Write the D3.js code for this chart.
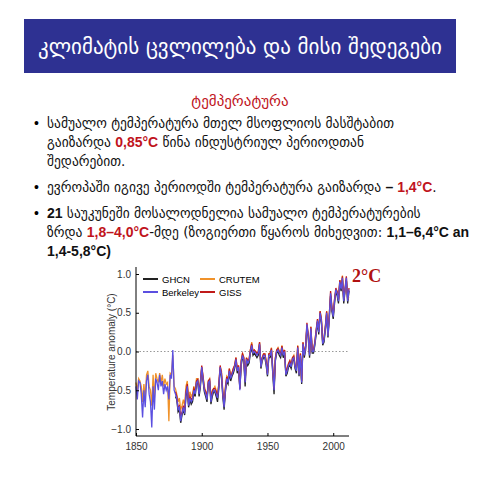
<!DOCTYPE html>
<html><head><meta charset="utf-8">
<script src="https://cdn.jsdelivr.net/npm/d3@7"></script>
<style>body{margin:0;background:#fff}svg{display:block}</style></head>
<body><svg id="c" width="480" height="480"></svg>
<script>
const yearStart = 1850;
const berkeley = [-0.45,-0.62,-0.38,-0.40,-0.55,-0.85,-0.50,-0.72,-0.38,-0.30,
-0.55,-0.65,-0.98,-0.45,-0.75,-0.35,-0.40,-0.50,-0.30,-0.45,
-0.38,-0.55,-0.42,-0.50,-0.45,-0.62,-0.30,-0.35,0.02,-0.50,
-0.55,-0.60,-0.75,-0.72,-0.90,-0.80,-0.72,-0.80,-0.55,-0.45,
-0.70,-0.60,-0.65,-0.62,-0.50,-0.55,-0.40,-0.38,-0.55,-0.42,
-0.20,-0.35,-0.50,-0.55,-0.62,-0.40,-0.38,-0.65,-0.55,-0.50,
-0.50,-0.55,-0.60,-0.45,-0.20,-0.30,-0.55,-0.72,-0.50,-0.35,
-0.40,-0.25,-0.35,-0.30,-0.25,-0.20,-0.10,-0.25,-0.20,-0.50,
-0.15,-0.05,-0.10,-0.40,-0.10,-0.15,-0.12,0.00,0.08,-0.02,
0.00,-0.02,-0.05,-0.02,0.10,-0.20,-0.10,-0.05,-0.05,-0.15,
-0.30,-0.05,-0.05,0.02,-0.25,-0.50,-0.10,0.00,0.02,-0.02,
-0.05,0.05,-0.05,0.00,-0.30,-0.25,-0.18,-0.15,-0.20,-0.10,
-0.08,-0.20,-0.25,0.05,-0.30,-0.05,-0.40,0.10,-0.05,0.05,
0.35,0.20,-0.05,0.30,0.00,0.00,0.10,0.25,0.40,0.25,
0.50,0.40,0.10,0.15,0.30,0.50,0.20,0.45,0.75,0.55,
0.45,0.65,0.80,0.75,0.65,0.90,0.80,0.95,0.65,0.80,
0.95,0.65,0.80];
const crutem = [-0.40,-0.50,-0.35,-0.38,-0.45,-0.65,-0.42,-0.60,-0.30,-0.25,
-0.45,-0.50,-0.70,-0.30,-0.60,-0.28,-0.35,-0.40,-0.28,-0.40,
-0.30,-0.45,-0.35,-0.42,-0.40,-0.90,-0.28,-0.30,-0.05,-0.45,
-0.48,-0.55,-0.65,-0.60,-0.75,-0.70,-0.62,-0.70,-0.45,-0.38,
-0.60,-0.52,-0.58,-0.55,-0.45,-0.50,-0.35,-0.35,-0.50,-0.38,
-0.20,-0.32,-0.45,-0.52,-0.58,-0.38,-0.35,-0.60,-0.50,-0.48,
-0.45,-0.50,-0.55,-0.42,-0.20,-0.25,-0.50,-0.65,-0.45,-0.32,
-0.35,-0.22,-0.30,-0.28,-0.22,-0.18,-0.08,-0.22,-0.18,-0.45,
-0.12,-0.02,-0.08,-0.35,-0.08,-0.12,-0.10,0.02,0.12,0.00,
0.02,0.00,-0.03,0.00,0.12,-0.18,-0.08,-0.03,-0.03,-0.12,
-0.28,-0.03,-0.02,0.05,-0.22,-0.45,-0.08,0.02,0.05,0.00,
-0.02,0.08,-0.02,0.02,-0.28,-0.22,-0.15,-0.12,-0.18,-0.08,
-0.05,-0.18,-0.22,0.08,-0.28,-0.02,-0.38,0.12,-0.03,0.08,
0.32,0.22,-0.02,0.32,0.02,0.02,0.12,0.28,0.38,0.28,
0.52,0.42,0.12,0.18,0.32,0.52,0.22,0.48,0.72,0.58,
0.48,0.68,0.78,0.78,0.68,0.92,0.82,0.98,0.68,0.78,
0.92,0.68,0.70];
const ghcnStart = 1880;
const ghcn = [-0.58,-0.62,-0.78,-0.75,-0.92,-0.82,-0.75,-0.82,-0.58,-0.48,
-0.72,-0.62,-0.68,-0.65,-0.52,-0.58,-0.42,-0.40,-0.58,-0.45,
-0.22,-0.38,-0.52,-0.58,-0.65,-0.42,-0.40,-0.68,-0.58,-0.52,
-0.52,-0.58,-0.65,-0.48,-0.22,-0.32,-0.58,-0.75,-0.52,-0.38,
-0.42,-0.28,-0.38,-0.32,-0.28,-0.22,-0.12,-0.28,-0.22,-0.48,
-0.18,-0.08,-0.12,-0.45,-0.12,-0.18,-0.15,-0.02,0.05,-0.05,
-0.02,-0.05,-0.08,-0.05,0.08,-0.22,-0.12,-0.08,-0.08,-0.18,
-0.32,-0.08,-0.08,0.00,-0.28,-0.55,-0.12,-0.02,0.00,-0.05,
-0.08,0.02,-0.08,-0.02,-0.32,-0.28,-0.20,-0.18,-0.22,-0.12,
-0.10,-0.22,-0.28,0.02,-0.32,-0.08,-0.42,0.08,-0.08,0.02,
0.32,0.18,-0.08,0.28,-0.02,-0.02,0.08,0.22,0.38,0.22,
0.48,0.38,0.08,0.12,0.28,0.48,0.18,0.42,0.72,0.52,
0.42,0.62,0.78,0.72,0.62,0.88,0.78,0.92,0.62,0.78,
0.92,0.62,0.78];
const gissStart = 1880;
const giss = [-0.52,-0.58,-0.72,-0.70,-0.85,-0.78,-0.70,-0.78,-0.52,-0.42,
-0.68,-0.58,-0.62,-0.60,-0.48,-0.52,-0.38,-0.36,-0.52,-0.40,
-0.18,-0.33,-0.48,-0.52,-0.60,-0.38,-0.36,-0.62,-0.52,-0.48,
-0.48,-0.52,-0.58,-0.42,-0.18,-0.28,-0.52,-0.70,-0.48,-0.33,
-0.38,-0.22,-0.33,-0.28,-0.22,-0.18,-0.08,-0.22,-0.18,-0.48,
-0.12,-0.03,-0.08,-0.38,-0.08,-0.12,-0.10,0.02,0.10,0.00,
0.02,0.00,-0.03,0.00,0.12,-0.18,-0.08,-0.03,-0.03,-0.12,
-0.28,-0.03,-0.03,0.04,-0.22,-0.48,-0.08,0.02,0.04,0.00,
-0.03,0.07,-0.03,0.02,-0.28,-0.22,-0.16,-0.12,-0.18,-0.08,
-0.06,-0.18,-0.22,0.07,-0.28,-0.03,-0.38,0.12,-0.03,0.07,
0.37,0.22,-0.03,0.32,0.02,0.02,0.12,0.27,0.42,0.27,
0.52,0.42,0.12,0.17,0.32,0.52,0.22,0.47,0.78,0.57,
0.47,0.67,0.82,0.77,0.67,0.92,0.82,0.97,0.67,0.82,
0.97,0.67,0.82];
const seriesNames = ["GHCN","CRUTEM","Berkeley","GISS"];
const seriesColors = ["#222222","#f0922a","#5b4fe0","#c01a1a"];
const yTicks = [1.0,0.5,0.0,-0.5,-1.0];
const xTicks = [1850,1900,1950,2000];

const svg = d3.select("#c");
svg.append("rect").attr("x",24).attr("y",19).attr("width",432).attr("height",54).attr("fill","#2e3192");
svg.append("text").attr("x",240).attr("y",54).attr("text-anchor","middle").attr("fill","#fff")
 .attr("font-family","DejaVu Sans").attr("font-size",21).text("კლიმატის ცვლილება და მისი შედეგები");
svg.append("text").attr("x",240).attr("y",106).attr("text-anchor","middle").attr("fill","#c0141c")
 .attr("font-family","DejaVu Sans").attr("font-size",15).text("ტემპერატურა");

const FS = 13.5;
const lines = [
 {y:128,b:true,parts:[["სამუალო ტემპერატურა მთელ მსოფლიოს მასშტაბით","#111",false]]},
 {y:147,parts:[["გაიზარდა   ","#111",false],["0,85°C","#c0141c",true],[" წინა ინდუსტრიულ პერიოდთან","#111",false]]},
 {y:166,parts:[["შედარებით.","#111",false]]},
 {y:192,b:true,parts:[["ევროპაში იგივე პერიოდში ტემპერატურა გაიზარდა ","#111",false],["– ","#111",true],["1,4°C",  "#c0141c",true],[".","#111",false]]},
 {y:218,b:true,parts:[["21","#111",true],[" საუკუნეში მოსალოდნელია  სამუალო ტემპერატურების","#111",false]]},
 {y:237,parts:[["ზრდა ","#111",false],["1,8–4,0°C","#c0141c",true],["-მდე (ზოგიერთი წყაროს მიხედვით: ","#111",false],["1,1–6,4°C","#111",true],[" an","#111",true]]},
 {y:256,parts:[["1,4-5,8°C)","#111",true]]}
];
lines.forEach(l=>{
 if(l.b) svg.append("text").attr("x",34).attr("y",l.y).attr("font-family","Liberation Sans").attr("font-size",14).text("•");
 const t = svg.append("text").attr("x",47).attr("y",l.y).attr("font-family","DejaVu Sans").attr("font-size",FS);
 l.parts.forEach(p=>t.append("tspan").attr("fill",p[1]).attr("font-weight",p[2]?"bold":"normal")
   .attr("font-family",p[2]?"Liberation Sans":"DejaVu Sans").attr("font-size",p[2]?14:FS).text(p[0]));
});

const x = d3.scaleLinear().domain([1850,2012]).range([136,349]);
const y = d3.scaleLinear().domain([-1,1]).range([429,274]);
const g = svg.append("g");
g.append("line").attr("x1",136).attr("x2",349).attr("y1",y(0)).attr("y2",y(0)).attr("stroke","#999").attr("stroke-dasharray","1.5,2");
const mk = (arr,start)=>arr.map((v,i)=>[start+i,v]);
const data = [mk(ghcn,ghcnStart),mk(crutem,yearStart),mk(giss,gissStart),mk(berkeley,yearStart)];
const colorsDraw = [seriesColors[0],seriesColors[1],seriesColors[3],seriesColors[2]];
const line = d3.line().x(d=>x(d[0])).y(d=>y(d[1]));
data.forEach((d,i)=>g.append("path").attr("d",line(d)).attr("fill","none").attr("stroke",colorsDraw[i]).attr("stroke-width",1.3));
g.append("g").attr("transform","translate(136,0)").call(d3.axisLeft(y).tickValues(yTicks).tickFormat(d3.format(".1f")).tickSize(-3).tickSizeOuter(0))
 .call(a=>{a.select(".domain").attr("d","M0,267V436");a.selectAll("text").attr("font-family","Liberation Sans").attr("font-size",10).attr("fill","#333").attr("x",-5);});
g.append("g").attr("transform","translate(0,436)").call(d3.axisBottom(x).tickValues(xTicks).tickFormat(d3.format("d")).tickSize(-3).tickSizeOuter(0))
 .call(a=>{a.select(".domain").attr("d","M136,0H349");a.selectAll("text").attr("font-family","Liberation Sans").attr("font-size",10).attr("fill","#333").attr("y",7);});
svg.append("text").attr("transform","translate(115,352) rotate(-90)").attr("text-anchor","middle")
 .attr("font-family","Liberation Sans").attr("font-size",10).attr("fill","#333").text("Temperature anomaly (°C)");
const leg = [[0,143,279],[1,200,279],[2,143,292],[3,200,292]];
leg.forEach(([i,lx,ly])=>{
 svg.append("line").attr("x1",lx).attr("x2",lx+15).attr("y1",ly).attr("y2",ly).attr("stroke",seriesColors[i]).attr("stroke-width",2);
 svg.append("text").attr("x",lx+19).attr("y",ly+3.5).attr("font-family","Liberation Sans").attr("font-size",9.5).text(seriesNames[i]);
});
svg.append("text").attr("x",352).attr("y",282).attr("font-family","Liberation Serif").attr("font-weight","bold")
 .attr("font-size",18).attr("fill","#b01010").text("2°C");
</script></body></html>
